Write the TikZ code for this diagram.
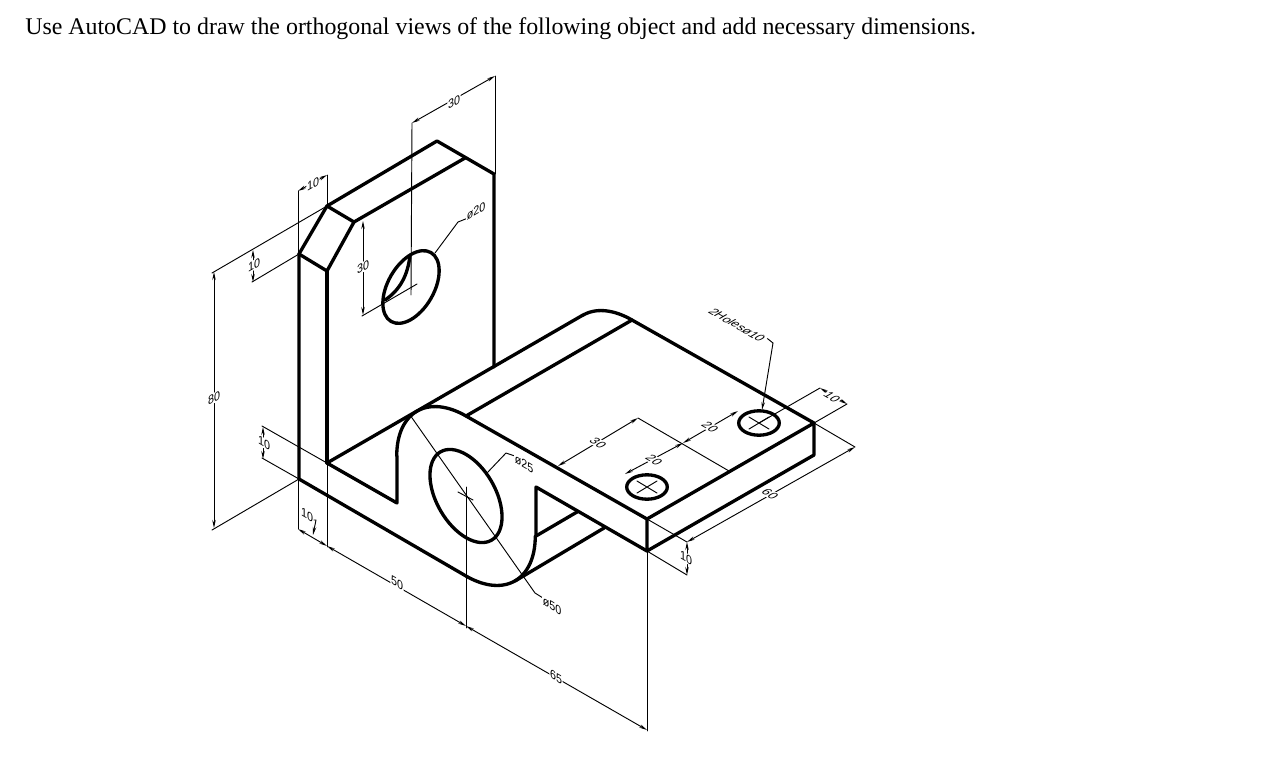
\documentclass[tikz,border=0pt]{standalone}
\usepackage{fontspec}
\usetikzlibrary{arrows.meta}
\setmainfont{Liberation Serif}
\setsansfont{Liberation Sans}
\tikzset{
  body/.style={line width=2.5pt},
  dimline/.style={line width=0.7pt},
  dimarrow/.style={dimline,<->},
  lbl/.style={font=\sffamily\fontsize{9.3}{9.3}\selectfont,fill=white,inner sep=0.6pt,transform shape},
  leftface/.style={cm={.866,.5,0,1,(0,0)}},
  rightface/.style={cm={.866,-.5,0,1,(0,0)}},
  topface/.style={cm={.866,-.5,.866,.5,(0,0)}},
}
\begin{document}
\begin{tikzpicture}[line join=round,line cap=round,>={Stealth[length=6pt,width=2.6pt]},x=0.75pt,y=-0.75pt]
\useasboundingbox (0,0) rectangle (1279,769);
\node[anchor=west,inner sep=0pt,font=\fontsize{17.92}{20}\selectfont] (title) at (25,29) {Use AutoCAD to draw the orthogonal views of the following object and add necessary dimensions.};
% back plate
\draw[body] (299,479) -- (299,254) -- (327,206) -- (437,141) -- (494,174) -- (494,367);
\draw[body] (299,254) -- (327,271) -- (354,222) -- (327,206);
\draw[body] (354,222) -- (465,158);
\draw[body] (327,271) -- (327,463);
% base, front boss and back arc
\draw[body] (327,463) -- (417,411) -- (583,315);
\draw[body,smooth,samples=30,domain=-135:-90] plot ({632+80*.866*cos(\x)},{400+80*.5*cos(\x)+80*sin(\x)});
\draw[body,smooth,samples=50,domain=-180:-90] plot ({466+80*.866*cos(\x)},{496+80*.5*cos(\x)+80*sin(\x)});
\draw[body] (397,456) -- (397,503) -- (327,463);
\draw[body] (632,320) -- (814,423) -- (814,455) -- (647,551) -- (647,519) -- (814,423);
\draw[body] (632,320) -- (466,416) -- (647,519);
\draw[body] (647,551) -- (536,487) -- (536,536);
\draw[body] (299,479) -- (466,576);
\draw[body,smooth,samples=50,domain=90:0] plot ({466+80*.866*cos(\x)},{496+80*.5*cos(\x)+80*sin(\x)});
\draw[body] (536,536) -- (577,512);
\draw[body] (515,581) -- (604,528);
% holes
\draw[body,rotate around={60:(411,287)}] (411,287) ellipse (39.8 and 23);
\draw[body] (410,255) .. controls (408,275) and (400,290) .. (385,300);
\draw[body,rotate around={-60:(466,496)}] (466,496) ellipse (51 and 29.4);
\draw[body] (647,487) ellipse (20.3 and 12.2);
\draw[body] (759,423) ellipse (20.3 and 12.2);
% center marks
\draw[dimline] (458,492) -- (473,500);
\draw[dimline] (637,481) -- (657,493) (637,493) -- (657,481);
\draw[dimline] (749,417) -- (769,429) (749,429) -- (769,417);
% extension lines
\draw[dimline] (212,273) -- (327,206);
\draw[dimline] (212,530) -- (299,479);
\draw[dimline] (262,426) -- (327,463);
\draw[dimline] (262,458) -- (299,479);
\draw[dimline] (252,282) -- (299,254);
\draw[dimline] (298,191) -- (298,254) (298,479) -- (298,529);
\draw[dimline] (327,175) -- (327,206) (327,463) -- (327,547);
\draw[dimline] (412,123) -- (411,295);
\draw[dimline] (495,76) -- (495,174);
\draw[dimline] (362,316) -- (417,284);
\draw[dimline] (466,487) -- (466,628);
\draw[dimline] (647,551) -- (647,731);
\draw[dimline] (647,519) -- (687,542);
\draw[dimline] (647,551) -- (687,575);
\draw[dimline] (814,423) -- (855,447);
\draw[dimline] (814,423) -- (847,404);
\draw[dimline] (759,423) -- (820,388);
\draw[dimline] (638,418) -- (729,471);
\draw[dimline] (410,415) -- (535,593) -- (543,598);
\draw[dimline] (435,253) -- (458,222) -- (468,218);
\draw[dimline] (487,473) -- (506,453) -- (515,456);
% dimensions
\draw[dimarrow] (214,272) -- (214,528);
\draw[dimarrow] (253,250) -- (253,282);
\draw[dimarrow] (263,427) -- (263,459);
\draw[dimarrow] (298,191) -- (327,175);
\draw[dimarrow] (412,123) -- (495,76);
\draw[dimarrow] (363,221) -- (363,315);
\draw[dimarrow] (298,529) -- (327,546);
\draw[dimarrow] (327,546) -- (466,626);
\draw[dimarrow] (466,626) -- (647,730);
\draw[dimarrow] (558,466) -- (638,418);
\draw[dimarrow] (625,474) -- (683,443);
\draw[dimarrow] (683,443) -- (738,411);
\draw[dimarrow] (820,388) -- (847,404);
\draw[dimarrow] (687,542) -- (855,447);
\draw[dimarrow] (687,542) -- (687,575);
\draw[dimline,->] (773,343) -- (762,410);
\draw[dimline] (763,335) -- (773,343);
\draw[dimline,->] (313,520) -- (316,520) -- (313,535);
% labels
\foreach \x/\y/\l/\f in {454/102/30/leftface,313/184/10/leftface,476/211/ø20/leftface,214/398/80/leftface,254/265/10/leftface,363/267/30/leftface,
  397/583/50/rightface,556/677/65/rightface,307/515/10/rightface,524/464/ø25/rightface,552/606/ø50/rightface,264/443/10/rightface,686/558/10/rightface,
  598/443/30/topface,654/460/20/topface,710/427/20/topface,770/494/60/topface,832/397/10/topface,737/325/2Holesø10/topface}{
  \node[lbl,\f] at (\x,\y) {\l};}
\end{tikzpicture}
\end{document}
